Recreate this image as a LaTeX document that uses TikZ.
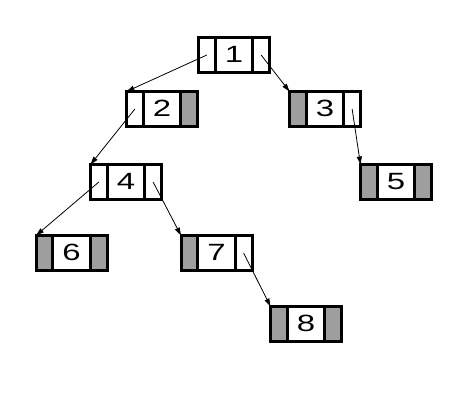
\documentclass[tikz,border=0pt]{standalone}
\usepackage{fontspec}
\setmainfont{Liberation Sans}
\usetikzlibrary{arrows.meta}
\tikzset{
  cell/.style={draw=black, line width=3pt, inner sep=0pt, outer sep=0pt, minimum height=35pt, fill=white},
  keycell/.style={cell, minimum width=37.5pt, font=\fontsize{23.5}{23.5}\selectfont},
  ptrcell/.style={cell, minimum width=16.75pt},
  nullcell/.style={ptrcell, fill=black!38},
  link/.style={line width=0.8pt, -{Triangle[length=8pt,width=5pt]}}
}
\newcommand{\dg}[1]{\raisebox{1pt}{\scalebox{1.4}[1]{#1}}}
\begin{document}
\begin{tikzpicture}[x=1pt,y=-1pt]
\useasboundingbox (0,0) rectangle (469,404);
% node 1
\node[keycell] (n1) at (234,55) {\dg{1}};
\node[ptrcell, anchor=east] (n1l) at (n1.west) {};
\node[ptrcell, anchor=west] (n1r) at (n1.east) {};
% node 2
\node[keycell] (n2) at (162,109) {\dg{2}};
\node[ptrcell, anchor=east] (n2l) at (n2.west) {};
\node[nullcell, anchor=west] (n2r) at (n2.east) {};
% node 3
\node[keycell] (n3) at (325,109) {\dg{3}};
\node[nullcell, anchor=east] (n3l) at (n3.west) {};
\node[ptrcell, anchor=west] (n3r) at (n3.east) {};
% node 4
\node[keycell] (n4) at (126,182) {\dg{4}};
\node[ptrcell, anchor=east] (n4l) at (n4.west) {};
\node[ptrcell, anchor=west] (n4r) at (n4.east) {};
% node 5
\node[keycell] (n5) at (396,182) {\dg{5}};
\node[nullcell, anchor=east] (n5l) at (n5.west) {};
\node[nullcell, anchor=west] (n5r) at (n5.east) {};
% node 6
\node[keycell] (n6) at (71.5,253) {\dg{6}};
\node[nullcell, anchor=east] (n6l) at (n6.west) {};
\node[nullcell, anchor=west] (n6r) at (n6.east) {};
% node 7
\node[keycell] (n7) at (216.5,253) {\dg{7}};
\node[nullcell, anchor=east] (n7l) at (n7.west) {};
\node[ptrcell, anchor=west] (n7r) at (n7.east) {};
% node 8
\node[keycell] (n8) at (306,324) {\dg{8}};
\node[nullcell, anchor=east] (n8l) at (n8.west) {};
\node[nullcell, anchor=west] (n8r) at (n8.east) {};
% links
\draw[link] (n1l.center) -- (n2l.north west);
\draw[link] (n1r.center) -- (n3l.north west);
\draw[link] (n2l.center) -- (n4l.north west);
\draw[link] (n3r.center) -- (n5l.north west);
\draw[link] (n4l.center) -- (n6l.north west);
\draw[link] (n4r.center) -- (n7l.north west);
\draw[link] (n7r.center) -- (n8l.north west);
\end{tikzpicture}
\end{document}
